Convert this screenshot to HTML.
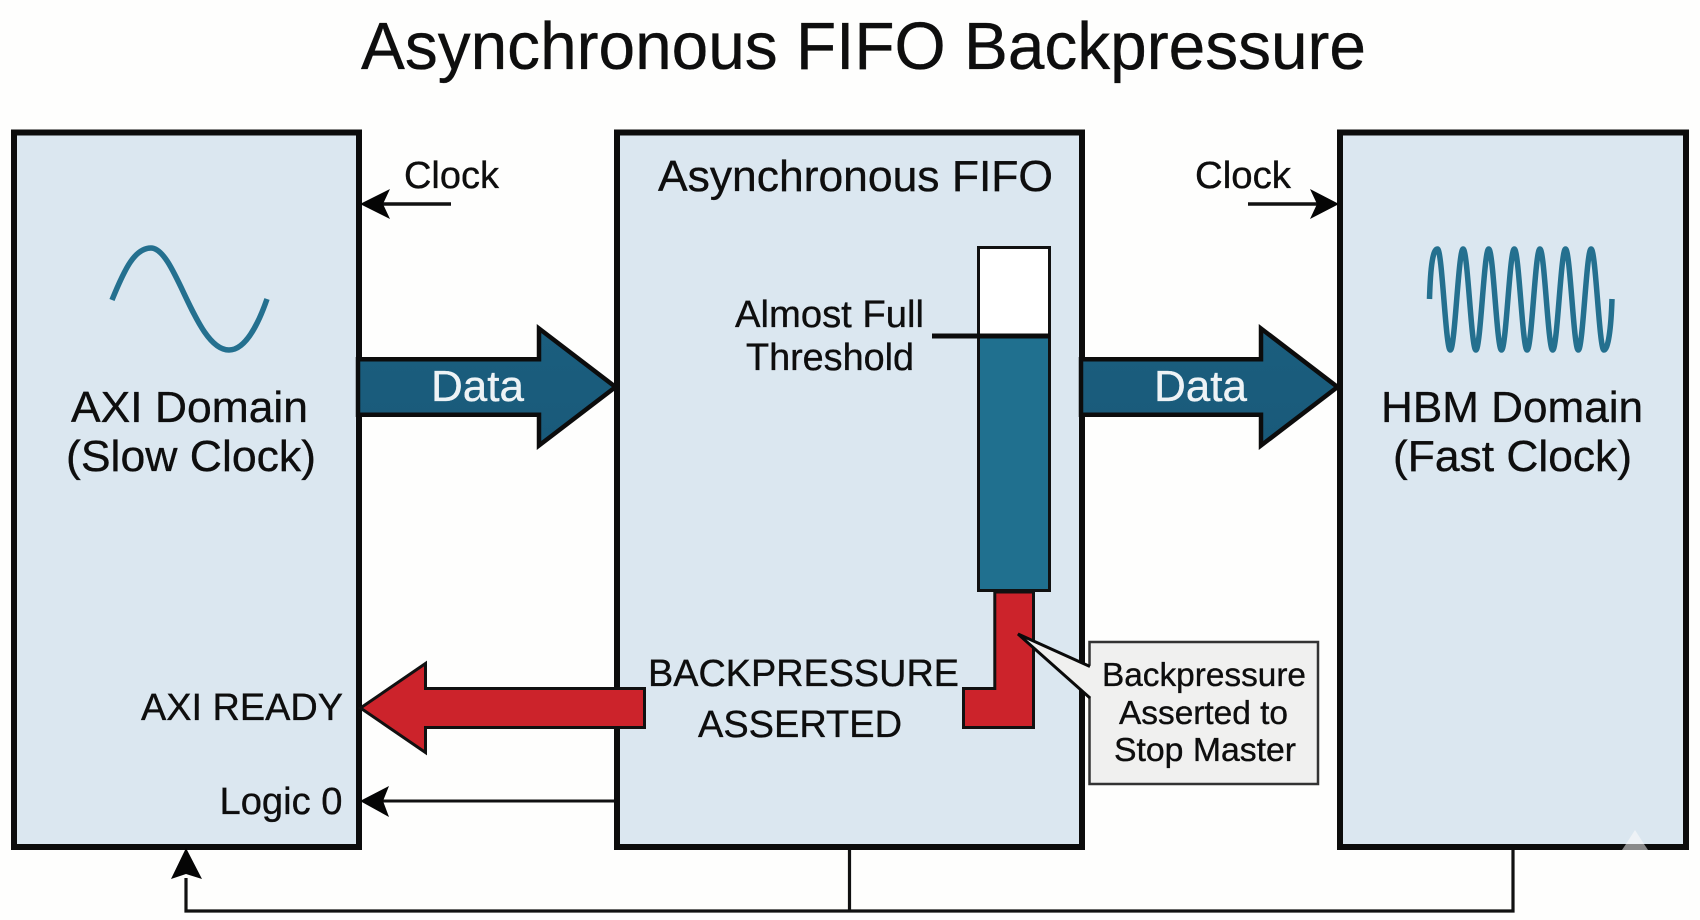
<!DOCTYPE html>
<html><head><meta charset="utf-8"><title>Asynchronous FIFO Backpressure</title>
<style>html,body{margin:0;padding:0;background:#fefefd}svg{display:block}
text{font-family:"Liberation Sans",sans-serif;fill:#0e0e0e;stroke:#0e0e0e;stroke-width:.35}</style></head><body>
<svg width="1700" height="920" viewBox="0 0 1700 920" xmlns="http://www.w3.org/2000/svg">
<defs>
<linearGradient id="dg" x1="0" y1="0" x2="0" y2="1"><stop offset="0" stop-color="#1b5e7e"/><stop offset="1" stop-color="#195a7a"/></linearGradient>
</defs>
<rect width="1700" height="920" fill="#fefefd"/>
<text x="361" y="69" font-size="67" textLength="1005" lengthAdjust="spacingAndGlyphs">Asynchronous FIFO Backpressure</text>

<rect x="14" y="132.500" width="345" height="714.500" fill="#dbe7f0" stroke="#0c0c0c" stroke-width="6"/>
<rect x="617" y="132.500" width="465" height="714.500" fill="#dbe7f0" stroke="#0c0c0c" stroke-width="6"/>
<rect x="1340" y="132.500" width="346" height="714.500" fill="#dbe7f0" stroke="#0c0c0c" stroke-width="6"/>

<!-- feedback lines -->
<path d="M186 878V911H1513V850M849.500 850V911" fill="none" stroke="#111" stroke-width="3.200"/>
<polygon points="186,848 202,879 186,874 171,879" fill="#050505"/>

<!-- clocks -->
<path d="M451 204H380" stroke="#111" stroke-width="3.500" fill="none"/>
<polygon points="360,204 390,189 383,204 390,219" fill="#050505"/>
<text x="404" y="188" font-size="38" textLength="95" lengthAdjust="spacingAndGlyphs">Clock</text>
<path d="M1248 204H1320" stroke="#111" stroke-width="3.500" fill="none"/>
<polygon points="1339,204 1310,189 1317,204 1310,219" fill="#050505"/>
<text x="1195" y="188" font-size="38" textLength="96" lengthAdjust="spacingAndGlyphs">Clock</text>

<!-- waves -->
<path d="M112 300C125 268 135 248 151 248C176 248 195 350 229 350C245 350 258 325 267 299" fill="none" stroke="#24708f" stroke-width="5.500"/>
<path d="M1429.500 299C1430.500 265 1433 249 1437.500 249
c4.660 0 8.140 101 12.800 101c4.660 0 8.140 -101 12.800 -101
c4.660 0 8.140 101 12.800 101c4.660 0 8.140 -101 12.800 -101
c4.660 0 8.140 101 12.800 101c4.660 0 8.140 -101 12.800 -101
c4.660 0 8.140 101 12.800 101c4.660 0 8.140 -101 12.800 -101
c4.660 0 8.140 101 12.800 101c4.660 0 8.140 -101 12.800 -101
c4.660 0 8.140 101 12.800 101c4.660 0 8.140 -101 12.800 -101
c4.660 0 8.140 101 12.800 101
C1608 350 1611 330 1612 299" fill="none" stroke="#24708f" stroke-width="5.500"/>

<text x="71" y="422" font-size="44" textLength="237" lengthAdjust="spacingAndGlyphs">AXI Domain</text>
<text x="66" y="471" font-size="44" textLength="250" lengthAdjust="spacingAndGlyphs">(Slow Clock)</text>
<text x="1381" y="422" font-size="44" textLength="262" lengthAdjust="spacingAndGlyphs">HBM Domain</text>
<text x="1393" y="471" font-size="44" textLength="239" lengthAdjust="spacingAndGlyphs">(Fast Clock)</text>
<text x="658" y="191" font-size="44" textLength="395" lengthAdjust="spacingAndGlyphs">Asynchronous FIFO</text>

<!-- data arrows -->
<polygon points="358,359.300 539,359.300 539,328.500 615.500,387 539,445.500 539,414.700 358,414.700" fill="url(#dg)" stroke="#0c0c0c" stroke-width="4.500" stroke-miterlimit="10"/>
<text x="431" y="401" font-size="44" style="fill:#eef3f6;stroke:#eef3f6" textLength="93" lengthAdjust="spacingAndGlyphs">Data</text>
<polygon points="1081,359.300 1261,359.300 1261,328.500 1337.500,387 1261,445.500 1261,414.700 1081,414.700" fill="url(#dg)" stroke="#0c0c0c" stroke-width="4.500" stroke-miterlimit="10"/>
<text x="1154" y="401" font-size="44" style="fill:#eef3f6;stroke:#eef3f6" textLength="93" lengthAdjust="spacingAndGlyphs">Data</text>

<!-- fifo gauge -->
<rect x="978.500" y="247.500" width="71" height="88" fill="#fff" stroke="#111" stroke-width="3"/>
<rect x="978.500" y="336" width="71" height="254.500" fill="#20708f" stroke="#111" stroke-width="3"/>
<path d="M932 336H1050" stroke="#0c0c0c" stroke-width="5" fill="none"/>
<text x="735" y="327" font-size="38" textLength="189" lengthAdjust="spacingAndGlyphs">Almost Full</text>
<text x="746" y="370" font-size="38" textLength="168" lengthAdjust="spacingAndGlyphs">Threshold</text>

<!-- red L -->
<polygon points="994.800,592 1033.500,592 1033.500,727.500 963.500,727.500 963.500,688.500 994.800,688.500" fill="#cc232b" stroke="#111" stroke-width="3"/>
<!-- red arrow -->
<polygon points="360.500,708 425.500,663.500 425.500,688.500 644.500,688.500 644.500,727.500 425.500,727.500 425.500,752.500" fill="#cc232b" stroke="#111" stroke-width="3" stroke-miterlimit="10"/>

<text x="648" y="686" font-size="38" textLength="311" lengthAdjust="spacingAndGlyphs">BACKPRESSURE</text>
<text x="698" y="737" font-size="38" textLength="204" lengthAdjust="spacingAndGlyphs">ASSERTED</text>
<text x="141" y="720" font-size="38" textLength="202" lengthAdjust="spacingAndGlyphs">AXI READY</text>
<text x="219.500" y="814" font-size="38" textLength="123" lengthAdjust="spacingAndGlyphs">Logic 0</text>

<!-- logic arrow -->
<path d="M614 801H380" stroke="#111" stroke-width="3" fill="none"/>
<polygon points="360,801 389,786 383,801 389,817" fill="#050505"/>

<!-- callout -->
<rect x="1089.500" y="642" width="228.500" height="142" fill="#f0f0ef" stroke="#333" stroke-width="2.500"/>
<polygon points="1092,666 1018,634 1092,698" fill="#f0f0ef"/>
<path d="M1090 666.500L1018 634L1090 698" fill="none" stroke="#0a0a0a" stroke-width="3"/>
<text x="1102" y="686" font-size="33" textLength="204" lengthAdjust="spacingAndGlyphs">Backpressure</text>
<text x="1119" y="724" font-size="33" textLength="169" lengthAdjust="spacingAndGlyphs">Asserted to</text>
<text x="1114" y="761" font-size="33" textLength="182" lengthAdjust="spacingAndGlyphs">Stop Master</text>

<!-- faint mark -->
<polygon points="1635,830 1626,844 1644,844" fill="#eef2f6"/>
<polygon points="1626,844 1644,844 1648,850 1622,850" fill="#8a8a8a"/>
</svg>
</body></html>
